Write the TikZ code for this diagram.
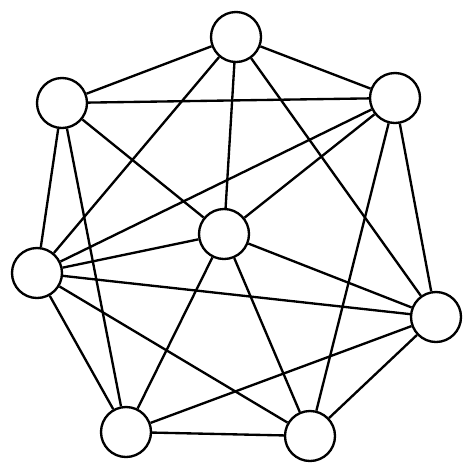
\documentclass[tikz,border=0pt]{standalone}
\usepackage{tikz}

\begin{document}
\begin{tikzpicture}[x=0.03cm,y=-0.03cm,
vtx/.style={draw,circle,line width=2pt,inner sep=0pt,minimum size=1.5cm,fill=white},
link/.style={line width=2pt}]
\useasboundingbox (0,0) rectangle (474,474);
\node (top) [vtx] at (236,37) {};
\node (upl) [vtx] at (62,103) {};
\node (upr) [vtx] at (395,98) {};
\node (mid) [vtx] at (224,234) {};
\node (lft) [vtx] at (37,273) {};
\node (rgt) [vtx] at (436,317) {};
\node (dnl) [vtx] at (126,432) {};
\node (dnr) [vtx] at (310,436) {};
\foreach \a/\b in {top/upl,top/upr,top/lft,top/mid,top/rgt,
    upl/upr,upl/mid,upl/lft,upl/dnl,
    upr/lft,upr/mid,upr/dnr,upr/rgt,
    mid/lft,mid/rgt,mid/dnl,mid/dnr,
    lft/rgt,lft/dnl,lft/dnr,
    rgt/dnl,rgt/dnr,dnl/dnr}
  \draw[link] (\a) -- (\b);
\end{tikzpicture}
\end{document}
